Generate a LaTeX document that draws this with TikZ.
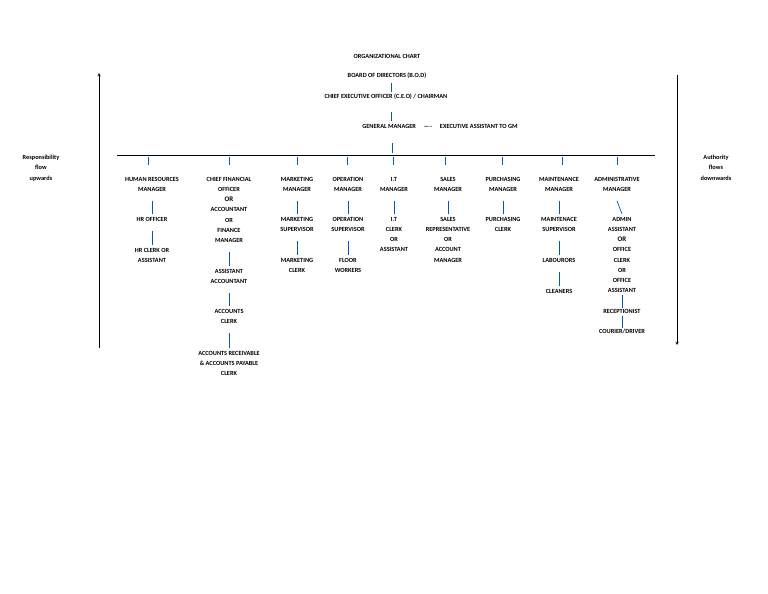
\documentclass[tikz,border=0pt]{standalone}
\usepackage{fontspec}
\setmainfont{Carlito}
\begin{document}
\begin{tikzpicture}[x=1pt,y=-1pt,
  t/.style={inner sep=0pt,align=center,anchor=north,font=\fontsize{6.3}{10.2}\selectfont\bfseries},
  tk/.style={draw=blue!50!cyan!70!black,line width=0.7pt},
  big/.style={font=\fontsize{7}{10}\selectfont\bfseries}]
\useasboundingbox (0,0) rectangle (768,594);
% top chain
\node[t] (title) at (387,54) {ORGANIZATIONAL CHART};
\node[t] (bod) at (387,73) {BOARD OF DIRECTORS (B.O.D)};
\node[t] (ceo) at (386,94) {CHIEF EXECUTIVE OFFICER (C.E.O) / CHAIRMAN};
\node[t] (gm) at (440,124) {GENERAL MANAGER\hspace{1.2em}-----\hspace{1.2em}EXECUTIVE ASSISTANT TO GM};
\coordinate (b1) at (391,83); \coordinate (b2) at (391,92);
\coordinate (c1) at (391,112); \coordinate (c2) at (391,121);
\coordinate (g1) at (392,143); \coordinate (g2) at (392,153);
\draw[tk] (b1)--(b2); \draw[tk] (c1)--(c2); \draw[tk] (g1)--(g2);
\coordinate (barL) at (117,155); \coordinate (barR) at (655,155);
\draw[line width=0.8pt] (barL)--(barR);
% columns
\node[t] (hr) at (152,177) {HUMAN RESOURCES\\MANAGER};
\node[t] (hro) at (152,217) {HR OFFICER};
\node[t] (hrc) at (152,248) {HR CLERK OR\\ASSISTANT};
\node[t] (cfo) at (229,177) {CHIEF FINANCIAL\\OFFICER\\{\fontsize{7}{10}\selectfont OR}\\ACCOUNTANT\\OR\\FINANCE\\MANAGER};
\node[t] (aa) at (229,269) {ASSISTANT\\ACCOUNTANT};
\node[t] (ac) at (229,309) {ACCOUNTS\\CLERK};
\node[t] (arp) at (229,351) {ACCOUNTS RECEIVABLE\\\& ACCOUNTS PAYABLE\\CLERK};
\node[t] (mm) at (297,177) {MARKETING\\MANAGER};
\node[t] (ms) at (297,217) {MARKETING\\SUPERVISOR};
\node[t] (mc) at (297,258) {MARKETING\\CLERK};
\node[t] (om) at (348,177) {OPERATION\\MANAGER};
\node[t] (os) at (348,217) {OPERATION\\SUPERVISOR};
\node[t] (fw) at (348,258) {FLOOR\\WORKERS};
\node[t] (itm) at (394,177) {I.T\\MANAGER};
\node[t] (itc) at (394,217) {I.T\\CLERK\\OR\\ASSISTANT};
\node[t] (sm) at (448,177) {SALES\\MANAGER};
\node[t] (sr) at (448,217) {SALES\\REPRESENTATIVE\\OR\\ACCOUNT\\MANAGER};
\node[t] (pm) at (503,177) {PURCHASING\\MANAGER};
\node[t] (pc) at (503,217) {PURCHASING\\CLERK};
\node[t] (mtm) at (559,177) {MAINTENANCE\\MANAGER};
\node[t] (mts) at (559,217) {MAINTENACE\\SUPERVISOR};
\node[t] (lab) at (559,258) {LABOURORS};
\node[t] (cl) at (559,289) {CLEANERS};
\node[t] (am) at (617,177) {ADMINISTRATIVE\\MANAGER};
\node[t] (aas) at (622,217) {ADMIN\\ASSISTANT\\{\fontsize{7}{10}\selectfont OR}\\OFFICE\\CLERK\\OR\\OFFICE\\ASSISTANT};
\node[t] (rec) at (622,309) {RECEPTIONIST};
\node[t] (cd) at (622,329) {COURIER/DRIVER};
% ticks from bar
\foreach \n/\x in {hr/148,cfo/229,mm/297,om/347,itm/393,sm/445,pm/502,mtm/562,am/617}
  \draw[tk] (\x,157)--(\x,165);
% ticks between nodes
\foreach \a/\b in {hr/hro,hro/hrc,cfo/aa,aa/ac,ac/arp,mm/ms,ms/mc,om/os,os/fw,itm/itc,sm/sr,pm/pc,mtm/mts,mts/lab,lab/cl,am/aas}
  \draw[tk] ([yshift=-9]\a.south) -- ([yshift=3]\b.north);
\draw[tk] ([yshift=-2]aas.south) -- ([yshift=1]rec.north);
\draw[tk] ([yshift=-2]rec.south) -- ([yshift=1]cd.north);
% side arrows
\coordinate (la) at (99,348); \coordinate (lb) at (99,73);
\coordinate (ra) at (677,75); \coordinate (rb) at (677,345);
\draw[-stealth,line width=0.5pt] (la)--(lb);
\draw[-stealth,line width=0.5pt] (ra)--(rb);
\node[t] (resp) at (41,155) {Responsibility\\flow\\upwards};
\node[t] (auth) at (716,155) {Authority\\flows\\downwards};
\end{tikzpicture}
\end{document}
